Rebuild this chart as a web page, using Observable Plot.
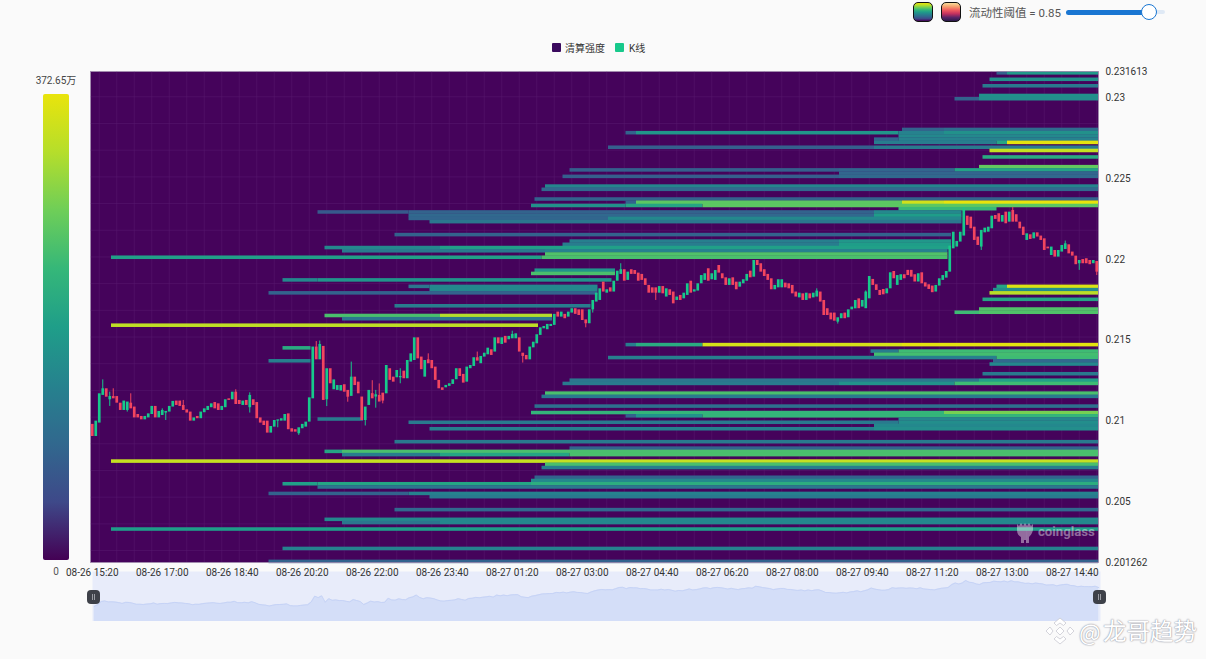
<!DOCTYPE html>
<html><head><meta charset="utf-8">
<script src="https://cdn.jsdelivr.net/npm/d3@7"></script>
<script src="https://cdn.jsdelivr.net/npm/@observablehq/plot@0.6"></script>
<style>
html,body{margin:0;padding:0;background:#fafafa;width:1206px;height:659px;overflow:hidden;font-family:Roboto,"Noto Sans CJK SC",sans-serif;}
.abs{position:absolute;white-space:nowrap;}
</style></head><body>
<div id="page" style="position:relative;width:1206px;height:659px;"></div>
<script>
// ---- candles: prices in units of 0.0001, five-minute candles starting 08-26 15:20
const opens=[2098,2090.5,2098.8,2115.9,2120,2113.2,2115.2,2115.2,2111.1,2106.6,2106.6,2111.1,2108.7,2104.1,2102.9,2100.8,2102,2104.1,2109.1,2102,
2103.5,2105,2105.6,2108.7,2112.4,2112.4,2109.7,2107,2105.6,2100,2102.9,2101.5,2105.2,2106.6,2108.3,2111.5,2110.7,2106.6,2108.3,2113.8,
2113.2,2117.9,2112.8,2109.7,2112.8,2108.3,2113.2,2111.5,2102,2100,2100,2092.6,2096.3,2100,2100,2100,2104.5,2095.3,2094.7,2092.2,
2095.3,2096.3,2099.4,2113.8,2145.8,2137.9,2146.2,2113.2,2132.4,2119.4,2119,2118.6,2122.5,2119,2115.3,2127.2,2124.1,2114.9,2100.4,2109.7,
2117,2114.9,2115.9,2117.3,2116.9,2132.4,2127.2,2126.8,2126.8,2130.9,2126.2,2136.5,2137.5,2151.5,2139.6,2127.2,2137.9,2137.5,2133.4,2125.2,
2120.6,2120.6,2121.5,2122.7,2125.6,2132.4,2128.9,2124.1,2132.4,2133.8,2139.2,2135.5,2139.6,2141,2144.1,2142.7,2151.5,2147.4,2152.4,2150.3,
2150.9,2150.9,2151.5,2142,2140.6,2137.9,2145.3,2147.8,2153,2157.1,2156.5,2158.5,2159.2,2167.4,2164.3,2166,2164.3,2166.8,2169.5,2168.8,
2168.8,2162.6,2160.2,2168.8,2173.6,2174.6,2185.9,2179.1,2182.4,2179.8,2186.5,2190.7,2193.6,2187,2193.6,2193.1,2191.5,2190.7,2188,2183.9,
2182.4,2182.4,2179.1,2183.2,2176.7,2181.2,2179.8,2174.6,2177.7,2175.6,2177.7,2186.5,2179.8,2180.4,2184.9,2187,2194.2,2187.4,2187,2196.2,
2191.1,2188.6,2183.9,2188.6,2185.9,2182.8,2184.9,2186.5,2192.7,2189,2199.3,2197.3,2193.6,2190.7,2188,2181.2,2182.4,2182.4,2185.3,2184.9,
2183.9,2179.8,2176.2,2178.7,2174.6,2178.7,2176.2,2176.7,2179.8,2174.6,2169.5,2166.8,2166.8,2161.2,2163.3,2166.8,2163.9,2168.8,2169.4,2175.6,
2170.5,2169.5,2175.6,2187.6,2184.3,2180.8,2181.4,2178.7,2181.8,2192.5,2183.9,2187,2190.5,2193.2,2193.2,2190.5,2186,2191.7,2185.5,2184.3,
2183.5,2179.8,2183.5,2187,2188.4,2192.1,2206.5,2207.6,2210.7,2214.4,2226.7,2226.1,2219.9,2213.8,2207.6,2216.4,2216.8,2218.9,2227.1,2228.2,
2223,2229.2,2223,2230.2,2227.6,2223,2219.9,2211.7,2215.2,2212.7,2216.4,2214.4,2212.7,2207.6,2202.4,2205.5,2201.4,2204.5,2206.1,2209,
2204.5,2202,2197.3,2199.9,2200.4,2199.3,2197.3,2198.7];
const closes=[2090.5,2100,2116.9,2120,2114.8,2115.2,2113.8,2111.1,2106.6,2112.4,2111.8,2107.6,2102,2102,2100.8,2102.9,2104.5,2109.1,2102,2106,
2106.6,2106,2109.1,2112.2,2109.7,2109.1,2106.6,2105,2100,2102,2101.5,2105.6,2107.6,2109.1,2110.7,2107.6,2106.6,2109.1,2113.2,2112.8,
2117.9,2110.3,2110.3,2112.4,2109.7,2115.9,2109.7,2101.5,2098.8,2097.3,2092.6,2096.7,2100.4,2100.8,2101.5,2104.1,2094.7,2093.2,2093.2,2095.9,
2098,2099.4,2114.4,2145.8,2137.9,2147.4,2112.8,2132.4,2123.1,2125.5,2122,2122,2117.9,2114.8,2127.2,2122,2116.9,2100.4,2108.7,2119,
2113.8,2116.3,2111.8,2112.4,2134.4,2125.2,2124.1,2131.3,2127.6,2126.2,2137.5,2141.6,2151.5,2138.5,2131.8,2137.5,2135.5,2132.4,2125.2,2120,
2119,2122.1,2123.1,2125.6,2132.4,2127.6,2123.5,2133.4,2134.4,2139.2,2137.1,2140,2142,2145.1,2140.6,2151.5,2147.8,2151.5,2148.2,2152.4,
2153.6,2154,2142.7,2140,2137.9,2145.8,2148.8,2153.4,2157.7,2158.5,2159.8,2159.8,2166,2164.3,2167.4,2163.3,2167.4,2169.5,2166,2165.3,
2162.2,2160.2,2168.8,2174.6,2179.1,2181.8,2179.8,2181.2,2179.8,2186.5,2192.7,2193.6,2186.5,2192.1,2190.7,2190.7,2186.5,2187,2183.9,2179.1,
2179.1,2179.1,2183.2,2178.7,2181.8,2177.7,2172.5,2176.7,2174.6,2179.1,2184.9,2179.1,2181.2,2184.9,2190,2191.1,2186.5,2191.1,2193.1,2191.5,
2188,2183.9,2188,2183.9,2181.2,2185.9,2187.4,2190.7,2188.6,2199.3,2196.2,2192.1,2189.4,2187,2181.2,2183.9,2187.4,2187.4,2182.4,2181.8,
2178.7,2176.7,2179.1,2174.6,2179.1,2175.6,2179.1,2180.4,2173.6,2165.3,2165.3,2162.6,2161.8,2163.9,2166.4,2163.3,2168.8,2170.5,2174.6,2169.5,
2174.6,2179.8,2189.4,2183.9,2180.8,2177.7,2178.1,2181.8,2191.7,2188,2190,2190.5,2188,2190,2189,2186,2191.1,2184.9,2182.9,2181.4,
2179.4,2183.9,2188,2190,2192.5,2208.2,2216.8,2211.1,2216.8,2230.2,2221,2218.9,2211.7,2208.6,2217.9,2219.3,2219.9,2226.7,2224.7,2223,
2227.1,2222,2229.2,2223,2223,2218.9,2214.8,2215.8,2212.3,2216.4,2213.8,2211.7,2205.5,2206.5,2207.6,2201.4,2205.5,2208.6,2209.6,2203.4,
2202,2196.7,2199.3,2197.3,2197.3,2196.7,2199.3,2192.1];
const highWicks=[[3,2125.5],[5,2117.9],[6,2120],[11,2116.9],[20,2107.6],[26,2112.8],[41,2119.4],[45,2117.5],[64,2149.2],[65,2149.5],[74,2136.5],[80,2125],[81,2119],[82,2123],[88,2132.4],[96,2141.6],[110,2142.7],[120,2155.6],[151,2197.3],[207,2181.8],[221,2180.5],[249,2232],[263,2232],[278,2211.3]];
const lowWicks=[[5,2109.1],[10,2105.6],[21,2100.4],[45,2105],[53,2095.9],[59,2091.2],[67,2109],[73,2111.7],[78,2097],[81,2108],[83,2110.7],[88,2123.1],[123,2135.9],[141,2157.7],[143,2166.8],[161,2174.6],[213,2160],[254,2205.5],[282,2193.2],[287,2190]];

// ---- liquidation rows: [price, first candle, last candle edge, intensity in 万]
const barsTop=[
[.2315,259,262,85],[.2315,262,288,180],[.2311,257,288,165],[.2307,255,288,125],[.2301,254,288,165],[.2299,247,254,85],[.2299,254,288,160],
[.2280,232,244,85],[.2280,244,288,100],[.2278,153,156,85],[.2278,156,231,175],[.2278,231,244,140],[.2278,244,288,165],[.2276,231,288,150],
[.2274,224,231,90],[.2274,231,288,140],[.2272,224,259,130],[.2272,259,262,200],[.2272,262,288,368],[.2269,148,224,80],[.2269,224,288,125],
[.2267,257,288,340],[.2263,255,288,210],[.2257,254,288,270],[.2255,137,214,80],[.2255,214,247,90],[.2255,247,288,195],[.2253,214,288,90],
[.2251,135,214,80],[.2251,214,288,95],[.2245,130,288,145],[.2243,129,288,95],[.2237,127,288,85]];
const barsUpper=[
[.2235,153,156,85],[.2235,156,232,265],[.2235,232,244,350],[.2235,244,288,372],[.2233,126,153,165],[.2233,153,175,200],[.2233,175,288,265],
[.2231,231,259,235],[.2229,65,91,70],[.2229,91,224,85],[.2229,224,249,150],[.2227,91,224,95],[.2227,224,249,185],[.2225,91,148,90],[.2225,148,249,150],
[.2223,97,249,120],[.2215,87,246,85],[.2211,137,214,135],[.2211,214,246,175],[.2209,135,214,130],[.2209,214,246,185],[.2207,67,100,150],[.2207,100,246,190],
[.2205,72,130,125],[.2205,130,245,140],[.2203,130,245,255],[.2201,6,129,190],[.2201,129,245,250],
[.2193,127,150,170],[.2191,126,150,250],[.2187,55,65,150],[.2187,65,149,170],[.2183,91,97,120],[.2183,97,145,150],[.2181,97,145,150],[.2179,51,145,85],
[.2171,87,143,130],[.2165,67,100,250],[.2165,100,132,325],[.2163,72,132,120],[.2159,6,128,335]];
const barsRight=[
[.2183,259,262,200],[.2183,262,288,360],[.2181,258,288,160],[.2179,257,288,330],[.2175,255,288,200],[.2169,254,288,255],[.2167,247,254,240],[.2167,254,288,255]];
const barsMiddle=[
[.2147,153,156,130],[.2147,156,175,210],[.2147,175,232,355],[.2147,232,288,368],[.2145,55,63,210],[.2143,223,231,130],[.2143,231,288,240],[.2141,224,288,245],
[.2139,148,259,135],[.2139,259,288,240],[.2137,51,63,135],[.2137,258,288,95],[.2135,257,288,150],[.2129,255,288,125],[.2125,137,254,120],[.2125,254,288,190],
[.2123,135,214,125],[.2123,214,247,165],[.2123,247,288,240],[.2117,130,288,250],[.2115,129,288,125],[.2109,127,288,110],[.2105,126,244,230],[.2105,244,288,285],
[.2103,153,156,85],[.2103,156,175,170],[.2103,175,288,230],[.2101,65,78,125],[.2101,231,288,150],[.2099,91,231,125],[.2099,231,288,160],[.2097,224,288,150],[.2095,97,224,135],[.2095,224,288,160]];
const barsLower=[
[.2087,87,288,125],[.2083,137,288,85],[.2081,67,72,200],[.2081,72,288,250],[.2079,72,100,130],[.2079,100,137,200],[.2079,137,288,250],[.2075,6,288,340],
[.2073,130,288,250],[.2071,129,288,130],[.2065,127,288,85],[.2063,126,288,150],[.2061,55,65,190],[.2061,65,126,200],[.2061,126,288,215],[.2059,65,288,120],
[.2055,51,91,85],[.2055,91,288,140],[.2053,97,288,125],[.2045,87,288,95],[.2039,67,288,150],[.2037,72,100,120],[.2037,100,288,150],[.2033,6,288,185],
[.2021,55,288,140],[.2013,51,288,85]];

// ---- axes, scale and labels
const priceTicks=[.201262,.205,.21,.215,.22,.225,.23,.231613];
const timeLabels=["08-26 15:20","08-26 17:00","08-26 18:40","08-26 20:20","08-26 22:00","08-26 23:40","08-27 01:20","08-27 03:00","08-27 04:40","08-27 06:20","08-27 08:00","08-27 09:40","08-27 11:20","08-27 13:00","08-27 14:40"];
const colorStops=["#440154","#3e4989","#31688e","#26828e","#1f9e89","#35b779","#6ece58","#b5de2b","#e9e40c"];
const magmaStops=["#2a1a4a","#5a2468","#c2305f","#ef5a5f","#f6a06f","#f7dd9a"];
const maxValue=372.65;
const upColor="#17c98b", downColor="#f2455f", bgColor="#45035b", gridColor="#571a70";

const MIN=60000;
const t0=Date.UTC(2025,7,26,15,20);
const at=i=>new Date(t0+i*5*MIN);
const parseTick=d3.utcParse("%Y-%m-%d %H:%M");
const xDomain=[at(-.5),at(287.5)];
const yDomain=[.201262,.231613];
const rowHalf=.00011;
const candles=opens.map((o,i)=>({i,t:at(i),o:o/1e4,c:closes[i]/1e4,up:closes[i]>=o}));
const bars=[...barsTop,...barsUpper,...barsRight,...barsMiddle,...barsLower].map(([p,s,e,v])=>({p,s,e,v}));
const wicks=[...highWicks,...lowWicks].map(([i,v])=>{const c=candles[i];return {t:c.t,a:v/1e4,b:(c.o+c.c)/2,up:c.up};});
const interp=d3.piecewise(d3.interpolateRgb,colorStops);

const main=Plot.plot({
  width:1206,height:590,marginTop:71,marginBottom:28,marginLeft:90,marginRight:108,
  style:{background:"transparent",fontFamily:"Roboto,'Noto Sans CJK SC',sans-serif",fontSize:"10px",color:"#333",maxWidth:"none"},
  x:{type:"time",domain:xDomain,range:[90,1098]},
  y:{domain:yDomain},
  color:{type:"linear",domain:[0,maxValue],interpolate:interp},
  marks:[
    Plot.frame({fill:bgColor,stroke:null}),
    Plot.ruleX(d3.range(2,288,5).map(at),{stroke:gridColor,strokeWidth:1,strokeOpacity:.55}),
    Plot.ruleY(d3.range(.2020,.2316,.00165),{stroke:gridColor,strokeWidth:1,strokeOpacity:.55}),
    Plot.rect(bars,{x1:d=>at(d.s-.5),x2:d=>at(d.e-.5),y1:d=>d.p-rowHalf,y2:d=>d.p+rowHalf,fill:"v",inset:0}),
    Plot.ruleX(wicks,{x:"t",y1:"a",y2:"b",stroke:d=>d.up?upColor:downColor,strokeWidth:1}),
    Plot.ruleX(candles,{x:"t",y1:"o",y2:"c",stroke:d=>d.up?upColor:downColor,strokeWidth:2.7}),
    Plot.frame({stroke:"#a48eb0",strokeWidth:.8}),
    Plot.axisX({ticks:timeLabels.map(s=>parseTick("2025-"+s)),tickFormat:d3.utcFormat("%m-%d %H:%M"),tickSize:0,tickPadding:6,label:null,fontSize:10,fill:"#333"}),
    Plot.axisY({anchor:"right",ticks:priceTicks,tickFormat:d=>String(d),tickSize:0,tickPadding:7,label:null,fontSize:10,fill:"#333"})
  ]
});
main.style.position="absolute";main.style.left="0";main.style.top="0";

const mini=Plot.plot({
  width:1206,height:50,marginTop:0,marginBottom:0,marginLeft:92,marginRight:106,
  style:{background:"transparent",maxWidth:"none"},
  x:{type:"time",domain:xDomain,axis:null},
  y:{domain:[.2009,.2279],axis:null},
  marks:[
    Plot.frame({fill:"#e8ecfa",stroke:null}),
    Plot.areaY(candles,{x:"t",y1:.2009,y2:"c",fill:"#d4def8"}),
    Plot.lineY(candles,{x:"t",y:"c",stroke:"#c6d3f6",strokeWidth:1})
  ]
});
mini.style.position="absolute";mini.style.left="0";mini.style.top="571px";

const page=document.getElementById("page");
page.appendChild(mini);page.appendChild(main);
function add(html){const w=document.createElement("div");w.innerHTML=html;const e=w.firstElementChild;page.appendChild(e);return e;}
const grad=(stops)=>"linear-gradient(to top,"+stops.join(",")+")";

// colour bar
add(`<div class="abs" style="left:43px;top:94px;width:26px;height:466px;border-radius:2px;background:${grad(colorStops)}"></div>`);
add(`<div class="abs" style="left:26px;width:60px;text-align:center;top:72px;font-size:10px;color:#444">${maxValue}万</div>`);
add(`<div class="abs" style="left:26px;width:60px;text-align:center;top:566px;font-size:10px;color:#555">0</div>`);
// legend
add(`<div class="abs" style="left:552px;top:43px;width:9px;height:9px;border-radius:1px;background:#3a0a5e"></div>`);
add(`<div class="abs" style="left:565px;top:40px;font-size:10px;color:#333">清算强度</div>`);
add(`<div class="abs" style="left:615px;top:43px;width:9px;height:9px;border-radius:1px;background:${upColor}"></div>`);
add(`<div class="abs" style="left:629px;top:40px;font-size:10px;color:#333">K线</div>`);
// top controls
add(`<div class="abs" style="left:913px;top:2px;width:18px;height:18px;border:1.5px solid #111;border-radius:5px;background:${grad(colorStops)}"></div>`);
add(`<div class="abs" style="left:941px;top:2px;width:18px;height:18px;border:1.5px solid #111;border-radius:5px;background:${grad(magmaStops)}"></div>`);
add(`<div class="abs" style="left:969px;top:4px;font-size:11.5px;color:#555">流动性阈值 = 0.85</div>`);
add(`<div class="abs" style="left:1066px;top:10px;width:99px;height:4px;border-radius:2px;background:#dfe9f5"></div>`);
add(`<div class="abs" style="left:1066px;top:9.5px;width:83px;height:5px;border-radius:3px;background:#1976d2"></div>`);
add(`<div class="abs" style="left:1141px;top:4px;width:14px;height:14px;border-radius:50%;background:#fff;border:1.5px solid #1976d2"></div>`);
// data-zoom handles
for(const x of [87,1093]){
  add(`<div class="abs" style="left:${x}px;top:590px;width:13px;height:14px;border-radius:4px;background:#3e4149"></div>`);
  add(`<div class="abs" style="left:${x+5}px;top:594px;width:3px;height:6px;border-left:1px solid #9a9ca3;border-right:1px solid #9a9ca3;box-sizing:border-box"></div>`);
}
// watermarks
add(`<div class="abs" style="left:1038px;top:524px;font-size:13.2px;font-weight:700;color:rgba(255,255,255,.42)">coinglass</div>`);
add(`<svg class="abs" style="left:1015px;top:521px" width="20" height="24" viewBox="0 0 20 24"><path d="M2 3l2 2 2-3 2 3 2-3 2 3 2-3 2 3 2-2v6c-1 4-3 6-4 7v6h-3v-3H9v3H6v-6C4 15 2 13 2 9z" fill="rgba(255,255,255,.42)"/></svg>`);
add(`<svg class="abs" style="left:1045px;top:617px" width="30" height="28" viewBox="0 0 30 28"><g fill="#fff" stroke="#c9c9d2" stroke-width=".8"><path d="M15 1l6 5-2.5 2.5L15 6l-3.5 2.5L9 6z"/><path d="M15 27l6-5-2.5-2.5L15 22l-3.5-2.5L9 22z"/><path d="M1 14l4-4 3 4-3 4z"/><path d="M29 14l-4-4-3 4 3 4z"/><path d="M15 10l4 4-4 4-4-4z"/></g></svg>`);
add(`<div class="abs" style="left:1079px;top:614px;font-size:23px;color:#fff;text-shadow:0 0 1px #8c8c98,0 0 2px #a0a0aa;font-family:'Noto Sans CJK SC',sans-serif">@</div>`);
add(`<div class="abs" style="left:1103px;top:613px;font-size:23.5px;color:#fff;text-shadow:0 0 1px #8c8c98,0 0 2px #a0a0aa;font-family:'Noto Sans CJK SC',sans-serif">龙哥趋势</div>`);
</script>
</body></html>
